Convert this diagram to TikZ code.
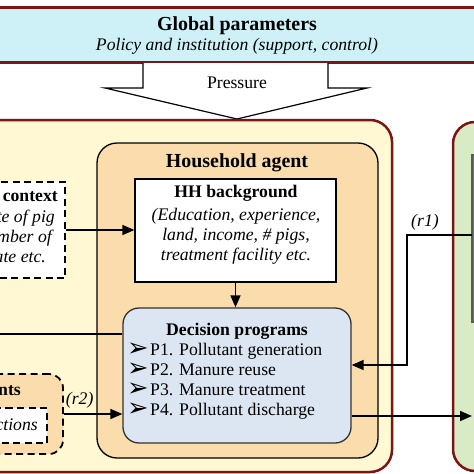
\documentclass[tikz,border=0pt]{standalone}
\usepackage{graphicx}
\usepackage{fontspec}
\setmainfont{Liberation Serif}
\newfontfamily\dejavu{DejaVu Sans}
\usetikzlibrary{arrows.meta}
\definecolor{framered}{RGB}{122,22,22}
\definecolor{bandcyan}{RGB}{206,241,247}
\definecolor{creambg}{RGB}{255,248,210}
\definecolor{orangebg}{RGB}{251,220,172}
\definecolor{bluebg}{RGB}{220,230,242}
\definecolor{greenbg}{RGB}{216,235,197}
\newcommand{\progarrow}{\raisebox{-0.5pt}{\scalebox{1.45}{\dejavu ➢}}\kern1.5pt}
\begin{document}
\begin{tikzpicture}[x=1pt,y=-1pt,
    panel/.style={draw=framered,line width=2.5pt,rounded corners=22pt,inner sep=0pt},
    box/.style={draw,line width=1.3pt,inner sep=0pt},
    dashbox/.style={box,line width=1.8pt,dash pattern=on 7pt off 4.5pt},
    arr/.style={line width=1.6pt,-{Triangle[length=12pt,width=10pt]}},
    bigbold/.style={font=\fontsize{19.9}{24}\selectfont\bfseries},
    smallbold/.style={font=\fontsize{17.7}{20}\selectfont\bfseries},
    body/.style={font=\fontsize{17.7}{20}\selectfont,inner sep=0pt},
    slant/.style={font=\fontsize{17.7}{20}\selectfont\itshape,inner sep=0pt}]
    \useasboundingbox (0,0) rectangle (474,474);
    % global parameters band
    \node[fill=bandcyan,minimum width=490pt,minimum height=54pt,inner sep=0pt] (glob) at (237,35) {};
    \draw[framered,line width=3pt] (glob.north west)--(glob.north east) (glob.south west)--(glob.south east);
    \node[bigbold] (globlbl) at (237,26) {Global parameters};
    \node[slant] (globsub) at (237,46) {Policy and institution (support, control)};
    % pressure
    \draw[line width=1.2pt,fill=white,line join=miter]
        (143,63)--(143,88)--(105,88)--(237,119)--(367,88)--(328,88)--(328,63);
    \node[body] (press) at (237,83) {Pressure};
    % panels
    \node[panel,fill=creambg,minimum width=430pt,minimum height=352pt] (env) at (177,296) {};
    \node[panel,fill=greenbg,minimum width=80pt,minimum height=349pt] (world) at (493,296.5) {};
    \node[draw=black!65,line width=2.5pt,fill=black!55,minimum width=50pt,minimum height=167pt] (worldin) at (497,238.5) {};
    % household agent
    \node[box,fill=orangebg,rounded corners=20pt,minimum width=281pt,minimum height=315pt] (agent) at (237.5,300.5) {};
    \node[bigbold] (agentlbl) at (237,163) {Household agent};
    \node[box,fill=white,minimum width=201pt,minimum height=103pt] (hh) at (235.5,230.5) {};
    \node[smallbold] (hhlbl) at (236,193) {HH background};
    \node[slant,align=center] (hhtxt) at (236,236) {(Education, experience,\\land, income, \# pigs,\\treatment facility etc.};
    \node[box,draw=black!80,fill=bluebg,rounded corners=16pt,minimum width=228pt,minimum height=135pt] (dec) at (237,375.5) {};
    \node[smallbold] (declbl) at (237,331) {Decision programs};
    \node[body,align=left,anchor=west] (decitems) at (127,381)
        {\progarrow P1. Pollutant generation\\\progarrow P2. Manure reuse\\\progarrow P3. Manure treatment\\\progarrow P4. Pollutant discharge};
    % left side
    \node[dashbox,fill=white,minimum width=100pt,minimum height=96pt] (ctx) at (15,230) {};
    \node[smallbold,inner sep=0pt,anchor=east] (ctxlbl) at (58,197) {context};
    \node[slant,anchor=east] (ctx1) at (55,218) {te of pig};
    \node[slant,anchor=east] (ctx2) at (52,238) {mber of};
    \node[slant,anchor=east] (ctx3) at (46,258) {ate etc.};
    \node[dashbox,fill=orangebg,rounded corners=14pt,minimum width=100pt,minimum height=80pt] (acts) at (13,414) {};
    \node[smallbold,inner sep=0pt,anchor=east] (actslbl) at (21,391) {nts};
    \node[dashbox,fill=white,minimum width=80pt,minimum height=35pt] (actsin) at (7,425.5) {};
    \node[slant,anchor=east] (actstxt) at (38,425) {ctions};
    % connectors
    \coordinate (leftin) at (-5,334);
    \coordinate (r1start) at (472,235);
    \coordinate (worldout) at (472,416);
    \draw[arr] (ctx.east)--(ctx.east -| hh.west);
    \draw[arr] (hh.south)--(hh.south |- dec.north);
    \draw[line width=1.6pt] (leftin)--(leftin -| dec.west);
    \draw[arr] (acts.east)--(acts.east -| dec.west) node[slant,pos=0.27,above=5pt] (r2lbl) {(r2)};
    \draw[arr] (r1start)--++(-65,0) |- (dec.east |- 0,365);
    \node[slant] (r1lbl) at (425,222) {(r1)};
    \draw[arr] (dec.east |- worldout)--(worldout);
\end{tikzpicture}
\end{document}
